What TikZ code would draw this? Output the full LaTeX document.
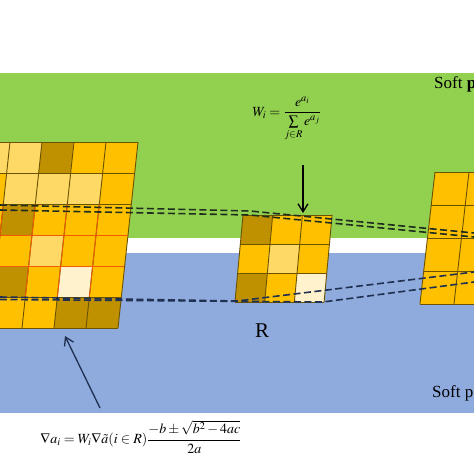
\documentclass[tikz,border=0pt]{standalone}
\usepackage{mathptmx}
\usepackage{fontspec}
\setmainfont{Liberation Serif}
\usetikzlibrary{arrows.meta}
\definecolor{gr}{HTML}{92D050}
\definecolor{bl}{HTML}{8FAADC}
\definecolor{cO}{HTML}{FFC000}
\definecolor{cD}{HTML}{BF9000}
\definecolor{cL}{HTML}{FFD966}
\definecolor{cV}{HTML}{FFF2CC}
\definecolor{gl}{HTML}{6B5200}
\definecolor{rl}{HTML}{F05A00}
\definecolor{dk}{HTML}{1E2D1E}
\definecolor{nv}{HTML}{1F3050}
\begin{document}
\begin{tikzpicture}[x=1pt,y=-1pt,
  cellline/.style={draw=gl,line width=0.9pt},
  redline/.style={draw=rl,line width=0.9pt},
  dashtop/.style={draw=dk,line width=1.6pt,dash pattern=on 7pt off 3.5pt},
  dashbot/.style={draw=nv,line width=1.6pt,dash pattern=on 7pt off 3.5pt},
  ptr/.style={line width=1.3pt,-{Straight Barb[length=8pt,width=10pt]}},
  lbl/.style={anchor=base west,inner sep=0pt}]
\useasboundingbox (0,0) rectangle (474,474);
\clip (0,0) rectangle (474,474);
\fill[white] (0,0) rectangle (474,474);
\fill[gr] (0,73) rectangle (474,238);
\fill[bl] (0,253) rectangle (474,413);
% left grid
\begin{scope}[shift={(-22,142)}, xslant=0.1075]
  \foreach \r/\row in {0/{cL,cL,cD,cO,cO},1/{cO,cL,cL,cL,cO},2/{cO,cD,cO,cO,cO},3/{cO,cO,cL,cO,cO},4/{cO,cD,cO,cV,cO},5/{cO,cO,cO,cD,cD}}{
    \foreach \c [count=\k from 0] in \row {\fill[\c] (\k*32,\r*31) rectangle ++(32,31);}
  }
  \foreach \k in {0,...,5} \draw[cellline] (\k*32,0) -- (\k*32,186);
  \foreach \r in {0,...,6} \draw[cellline] (0,\r*31) -- (160,\r*31);
  \foreach \k in {1,...,4} \draw[redline] (\k*32,62.5) -- (\k*32,154.5);
  \draw[redline] (0,93) -- (159.5,93);
  \draw[redline] (0,124) -- (159.5,124);
\end{scope}
% middle grid R
\begin{scope}[shift={(243,215)}, xslant=0.092]
  \foreach \r/\row in {0/{cD,cO,cO},1/{cO,cL,cO},2/{cD,cO,cV}}{
    \foreach \c [count=\k from 0] in \row {\fill[\c] (\k*29.7,\r*29) rectangle ++(29.7,29);}
  }
  \foreach \k in {0,...,3} \draw[cellline] (\k*29.7,0) -- (\k*29.7,87);
  \foreach \r in {0,...,3} \draw[cellline] (0,\r*29) -- (89.1,\r*29);
\end{scope}
% right grid
\begin{scope}[shift={(435,172)}, xslant=0.114]
  \fill[cO] (0,0) rectangle (68,132);
  \foreach \k in {0,...,2} \draw[cellline] (\k*34,0) -- (\k*34,132);
  \foreach \r in {0,...,4} \draw[cellline] (0,\r*33) -- (68,\r*33);
\end{scope}
% dashed connector coordinates
\coordinate (ta0) at (0,205);   \coordinate (ta1) at (250,211); \coordinate (ta2) at (474,233);
\coordinate (tb0) at (0,210);   \coordinate (tb1) at (250,215); \coordinate (tb2) at (474,237);
\coordinate (ba0) at (0,297);   \coordinate (ba1) at (237,301); \coordinate (ba2) at (474,272);
\coordinate (bb0) at (0,299.5); \coordinate (bb1) at (323,302); \coordinate (bb2) at (474,282);
\draw[dashtop] (ta0) -- (ta1) -- (ta2);
\draw[dashtop] (tb0) -- (tb1) -- (tb2);
\draw[dashbot] (ba0) -- (ba1) -- (ba2);
\draw[dashbot] (bb0) -- (bb1) -- (bb2);
% labels
\node[lbl,font=\fontsize{17}{20}\selectfont] (s1) at (434,88) {Soft \textbf{p}};
\node[lbl,font=\fontsize{17}{20}\selectfont] (s2) at (432,397) {Soft p};
\node[lbl,font=\fontsize{21}{24}\selectfont] (rlab) at (255,337) {R};
% formulas
\node[inner sep=0pt] (wf) at (287,119) {\fontsize{14}{16}\selectfont $\displaystyle W_i=\frac{e^{a_i}}{\sum\limits_{j\in R} e^{a_j}}$};
\node[inner sep=0pt] (gf) at (141,437) {\fontsize{14}{16}\selectfont $\displaystyle \nabla a_i=W_i\nabla\tilde{a}(i\in R)\frac{-b\pm\sqrt{b^2-4ac}}{2a}$};
% arrows
\coordinate (wt) at (303,165);
\coordinate (Rtop) at (303,213);
\coordinate (gt) at (100,408);
\coordinate (Lhead) at (65,336);
\draw[ptr,draw=black] (wt) -- (Rtop);
\draw[ptr,draw=nv] (gt) -- (Lhead);
\end{tikzpicture}
\end{document}
